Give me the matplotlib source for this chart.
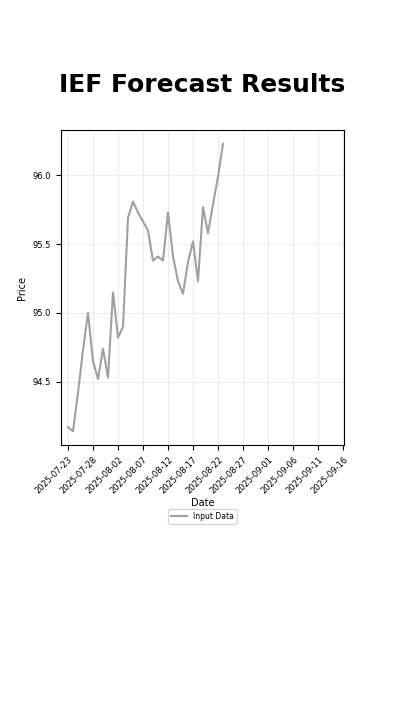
import pandas as pd
import matplotlib
matplotlib.use("Agg")
from matplotlib import pyplot as plt
import matplotlib.dates as mdates

start = pd.Timestamp("2025-07-23")
day_offsets = [0, 1, 2, 3, 4, 5, 6, 7, 8, 9, 10, 11, 12, 13, 14, 16, 17, 18, 19, 20,
               21, 22, 23, 24, 25, 26, 27, 28, 29, 30, 31]
prices = [94.17, 94.14, 94.42, 94.73, 95.00, 94.65, 94.52, 94.74, 94.53, 95.15, 94.82,
          94.90, 95.69, 95.81, 95.73, 95.60, 95.38, 95.41, 95.38, 95.73, 95.41, 95.23,
          95.14, 95.37, 95.52, 95.23, 95.77, 95.58, 95.79, 95.99, 96.23]
dates = [start + pd.Timedelta(days=d) for d in day_offsets]
tick_dates = [start + pd.Timedelta(days=5 * i) for i in range(12)]

fig = plt.figure(figsize=(4.05, 7.2), dpi=100)
ax = fig.add_axes([61 / 405, 1 - 445 / 720, 283 / 405, 315 / 720])
fig.suptitle("IEF Forecast Results", y=1 - 85 / 720, va="center",
             fontsize=18, fontweight="bold")

ax.plot(dates, prices, color="#a0a0a0", lw=1.5, label="Input Data")
ax.set_xlim(start - pd.Timedelta(days=1.4), start + pd.Timedelta(days=55.2))
ax.set_ylim(94.04, 96.33)
ax.set_xticks(tick_dates)
ax.xaxis.set_major_formatter(mdates.DateFormatter("%Y-%m-%d"))
ax.set_yticks([94.5, 95.0, 95.5, 96.0])
ax.tick_params(labelsize=6)
plt.setp(ax.get_xticklabels(), rotation=45, ha="right", rotation_mode="anchor")
ax.grid(True, color="#e8e8e8", lw=0.6)
ax.set_xlabel("Date", fontsize=7, labelpad=2)
ax.set_ylabel("Price", fontsize=7)
ax.legend(loc="upper center", bbox_to_anchor=(0.5, -0.19), fontsize=5.5)

plt.savefig("out.png", dpi=100)
plt.close()
